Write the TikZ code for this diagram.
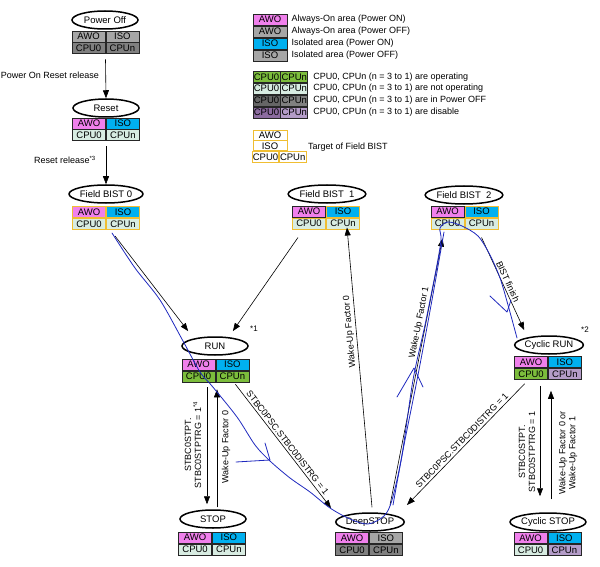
\documentclass[tikz,border=0pt]{standalone}
\usepackage{fontspec}
\setmainfont{Liberation Sans}
\usetikzlibrary{shapes.geometric,arrows.meta,positioning}

\definecolor{awocol}{RGB}{240,128,236}
\definecolor{isocol}{RGB}{0,176,240}
\definecolor{greycol}{RGB}{166,166,166}
\definecolor{dkgreycol}{RGB}{128,128,128}
\definecolor{runcol}{RGB}{124,189,60}
\definecolor{idlecol}{RGB}{216,236,226}
\definecolor{discol}{RGB}{180,156,200}
\definecolor{disdkcol}{RGB}{140,108,160}
\definecolor{bistcol}{RGB}{240,190,50}
\definecolor{inkcol}{RGB}{30,40,190}

\tikzset{
  state/.style={draw, ellipse, line width=1.5pt, fill=white, minimum width=66pt, minimum height=18pt, inner sep=0pt, font=\fontsize{9.5}{10}\selectfont},
  cell/.style={draw=black!85, line width=0.8pt, minimum width=33pt, minimum height=11pt, inner sep=0pt, font=\fontsize{9.5}{9.5}\selectfont},
  awoon/.style={fill=awocol},
  awooff/.style={fill=greycol},
  isoon/.style={fill=isocol},
  isooff/.style={fill=greycol},
  cpurun/.style={fill=runcol},
  cpuidle/.style={fill=idlecol},
  cpuoff/.style={fill=dkgreycol},
  cpudis/.style={fill=discol},
  bist/.style={draw=bistcol, line width=1pt},
  arr/.style={-{Triangle[length=8pt,width=6pt]}, line width=0.6pt},
  rarr/.style={{Triangle[length=8pt,width=6pt]}-, line width=0.6pt},
  lbl/.style={font=\fontsize{9}{10}\selectfont, inner sep=1pt},
  slbl/.style={font=\fontsize{9}{10}\selectfont, sloped, inner sep=2pt},
  ink/.style={inkcol, line width=0.8pt, line cap=round, line join=round}
}

% four area boxes under a state, #2 is the point where they meet
\newcommand{\cells}[6]{%
  \node[cell,#3,anchor=south east] (#1-awo) at (#2) {AWO};
  \node[cell,#4,anchor=south west] (#1-iso) at (#2) {ISO};
  \node[cell,#5,anchor=north east] (#1-cpu0) at (#2) {CPU0};
  \node[cell,#6,anchor=north west] (#1-cpun) at (#2) {CPUn};
}

\begin{document}
\begin{tikzpicture}[x=1pt,y=-1pt]
\useasboundingbox (0,0) rectangle (600,567);

% legend
\node[cell,awoon,minimum width=34pt] (key1) at (270,19.5) {AWO};
\node[cell,awooff,minimum width=34pt] (key2) at (270,31.5) {AWO};
\node[cell,isoon,minimum width=34pt] (key3) at (270,43.5) {ISO};
\node[cell,isooff,minimum width=34pt] (key4) at (270,55.5) {ISO};
\node[lbl,right=3pt of key1] (key1t) {Always-On area (Power ON)};
\node[lbl,right=3pt of key2] (key2t) {Always-On area (Power OFF)};
\node[lbl,right=3pt of key3] (key3t) {Isolated area (Power ON)};
\node[lbl,right=3pt of key4] (key4t) {Isolated area (Power OFF)};

\node[cell,cpurun,minimum width=27pt] (cpukey1a) at (266.5,77) {CPU0};
\node[cell,cpurun,minimum width=27pt,right=0pt of cpukey1a] (cpukey1b) {CPUn};
\node[cell,cpuidle,minimum width=27pt] (cpukey2a) at (266.5,88.5) {CPU0};
\node[cell,cpuidle,minimum width=27pt,right=0pt of cpukey2a] (cpukey2b) {CPUn};
\node[cell,fill=black!60,minimum width=27pt] (cpukey3a) at (266.5,100.5) {CPU0};
\node[cell,cpuoff,minimum width=27pt,right=0pt of cpukey3a] (cpukey3b) {CPUn};
\node[cell,fill=disdkcol,minimum width=27pt] (cpukey4a) at (266.5,112.5) {CPU0};
\node[cell,cpudis,minimum width=27pt,right=0pt of cpukey4a] (cpukey4b) {CPUn};
\node[lbl,right=4pt of cpukey1b] (cpukey1t) {CPU0, CPUn (n = 3 to 1) are operating};
\node[lbl,right=4pt of cpukey2b] (cpukey2t) {CPU0, CPUn (n = 3 to 1) are not operating};
\node[lbl,right=4pt of cpukey3b] (cpukey3t) {CPU0, CPUn (n = 3 to 1) are in Power OFF};
\node[lbl,right=4pt of cpukey4b] (cpukey4t) {CPU0, CPUn (n = 3 to 1) are disable};

\node[cell,bist,fill=white,minimum width=34pt,minimum height=10pt] (tgt-awo) at (270,135.5) {AWO};
\node[cell,bist,fill=white,minimum width=34pt,minimum height=10pt] (tgt-iso) at (270,146) {ISO};
\node[cell,bist,fill=white,minimum width=25pt] (tgt-cpu0) at (265.5,157.5) {CPU0};
\node[cell,bist,fill=white,minimum width=27pt,right=0pt of tgt-cpu0] (tgt-cpun) {CPUn};
\node[lbl,anchor=west] (tgt-t) at (307,147) {Target of Field BIST};

% states
\node[state] (off) at (105,20) {Power Off};
\cells{off}{105.5,42.5}{awooff}{isooff}{cpuoff}{cpuoff}
\node[state] (reset) at (106,108) {Reset};
\cells{reset}{106,129.5}{awoon}{isoon}{cpuidle}{cpuidle}
\node[state] (bist0) at (106,194) {Field BIST 0};
\cells{bist0}{106,218}{awoon,bist}{isoon,bist}{cpuidle,bist}{cpuidle,bist}
\node[state] (bist1) at (327,194) {Field BIST~~1};
\cells{bist1}{326,217.5}{awoon}{isoon,bist}{cpuidle,bist}{cpuidle,bist}
\node[state] (bist2) at (464,195) {Field BIST~~2};
\cells{bist2}{464.5,217.5}{awoon}{isoon,bist}{cpuidle,bist}{cpuidle,bist}
\node[state] (run) at (215,346) {RUN};
\cells{run}{215.5,370.5}{awoon}{isoon}{cpurun}{cpurun}
\node[state] (crun) at (549,345) {Cyclic RUN};
\cells{crun}{548,368}{awoon}{isoon}{cpurun}{cpudis}
\node[state] (stop) at (213,519) {STOP};
\cells{stop}{212,543.5}{awoon}{isoon}{cpuidle}{cpuidle}
\node[state] (dstop) at (370,522) {DeepSTOP};
\cells{dstop}{369,544}{awoon}{isooff}{cpuoff}{cpuoff}
\node[state] (cstop) at (548,522) {Cyclic STOP};
\cells{cstop}{547.5,544}{awoon}{isoon}{cpuidle}{cpudis}

\node[lbl,font=\fontsize{8}{9}\selectfont] (note1) at (254,329) {*1};
\node[lbl,font=\fontsize{8}{9}\selectfont] (note2) at (585,330) {*2};

% transitions
\draw[arr] ([yshift=-5pt]off-cpu0.south east) -- (reset.north);
\node[lbl,anchor=east] (porr) at (100,75) {Power On Reset release};
\draw[arr] ([yshift=-5pt]reset-cpu0.south east) -- (bist0.north);
\node[lbl,anchor=east] (rr) at (97,160) {Reset release\textsuperscript{*3}};

\draw[arr] ([xshift=9pt,yshift=-6pt]bist0-cpu0.south east) -- ([xshift=-3pt,yshift=8pt]run.north west);
\draw[arr] ([xshift=-11pt,yshift=-8pt]bist1-cpu0.south) -- ([xshift=-6pt,yshift=8pt]run.north east);
\draw[arr] ([xshift=2pt,yshift=5pt]dstop.north) -- node[slbl,allow upside down,pos=0.63,above] {Wake-Up Factor 0} ([xshift=4pt,yshift=-10pt]bist1-iso.south);
\draw[arr] ([xshift=20pt,yshift=7pt]dstop.north) -- node[slbl,pos=0.68,above] {Wake-Up Factor 1} ([xshift=-5pt,yshift=-9pt]bist2-cpu0.south);
\draw[arr] ([yshift=-8pt]bist2-cpun.south) -- node[slbl,above] {BIST finish} ([yshift=8pt]crun.north west);

\draw[arr] ([xshift=-8.5pt,yshift=-5pt]run-cpu0.south east) -- ([xshift=-6pt,yshift=5pt]stop.north);
\draw[arr] ([xshift=4pt,yshift=2pt]stop.north) -- ([xshift=1.5pt,yshift=-7pt]run-cpu0.south east);
\node[lbl,rotate=90,align=center] (stpl) at (193,445) {STBC0STPT.\\STBC0STPTRG = 1\textsuperscript{*4}};
\node[lbl,rotate=90] (wk0) at (226,447) {Wake-Up Factor 0};

\draw[arr] ([xshift=3pt,yshift=-2pt]run-cpun.south) -- node[slbl,above] {STBC0PSC.STBC0DISTRG = 1} ([xshift=-4pt,yshift=14pt]dstop.west);
\draw[rarr] ([xshift=2pt,yshift=17pt]dstop.east) -- node[slbl,above] {STBC0PSC.STBC0DISTRG = 1} ([xshift=-6.5pt,yshift=-4pt]crun-cpu0.south);

\draw[arr] ([xshift=-8pt,yshift=-6pt]crun-cpu0.south east) -- ([xshift=-8pt,yshift=16pt]cstop.north);
\draw[arr] ([xshift=3pt,yshift=13pt]cstop.north) -- ([xshift=3pt,yshift=-11pt]crun-cpu0.south east);
\node[lbl,rotate=90,align=center] (cstpl) at (527,452) {STBC0STPT.\\STBC0STPTRG = 1};
\node[lbl,rotate=90,align=center] (cwk) at (568,453) {Wake-Up Factor 0 or\\Wake-Up Factor 1};

% hand-drawn pen marks
\draw[ink] plot[smooth] coordinates {(112,233) (135,268) (160,300) (183,341) (200,372) (212,386) (237,417) (255,445) (270,461) (290,478) (310,492) (330,508) (350,519) (368,524) (384,516) (392,500) (402,455) (413,380) (425,325) (436,270) (441,240) (440,228) (448,222) (462,226) (478,236) (490,255) (500,278) (508,305) (517,338)};
\draw[ink] plot[smooth] coordinates {(393,505) (404,445) (418,375) (432,300) (444,232)};
\draw[ink] (236,462) -- (270,460) (265,443) -- (270,460);
\draw[ink] (397,397) -- (414,368) -- (423,387);
\draw[ink] (490,296) -- (507,312) -- (511,300);
\end{tikzpicture}
\end{document}
